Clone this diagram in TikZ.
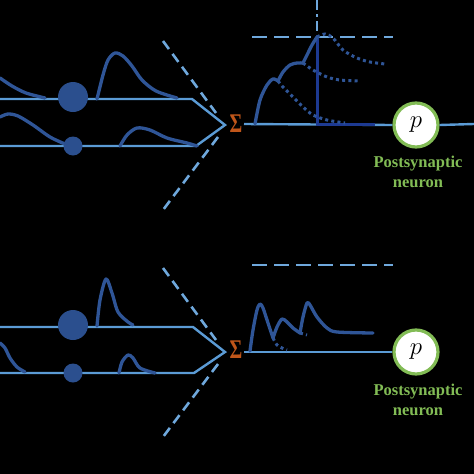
\documentclass[tikz,border=0pt]{standalone}
\usepackage{graphicx}
\usepackage{fontspec}
\setmainfont{Liberation Serif}
\definecolor{lblue}{HTML}{5B9BD5}
\definecolor{dashblue}{HTML}{6FA8DC}
\definecolor{wblue}{HTML}{2F5597}
\definecolor{sblue}{HTML}{2B4F8E}
\definecolor{navy}{HTML}{1D3A92}
\definecolor{pgreen}{HTML}{82BC55}
\definecolor{sorange}{HTML}{C0561A}
\begin{document}
\begin{tikzpicture}[x=1pt,y=-1pt,
  axon/.style={draw=lblue, line width=2.4pt},
  wave/.style={draw=wblue, line width=3.3pt, line cap=round, line join=round},
  dotwave/.style={draw=wblue, line width=3pt, dash pattern=on 3pt off 3.2pt},
  diag/.style={draw=dashblue, line width=2.6pt, dash pattern=on 10pt off 6pt},
  thresh/.style={draw=dashblue, line width=2.4pt, dash pattern=on 15pt off 7pt},
  dashdot/.style={draw=dashblue, line width=2.4pt, dash pattern=on 10pt off 4pt on 3pt off 4pt},
  navyline/.style={draw=navy, line width=3pt},
  soma/.style={circle, fill=sblue, inner sep=0pt},
  post/.style={circle, draw=pgreen, line width=3.2pt, fill=white, minimum size=44pt, inner sep=0pt, font=\fontsize{32}{32}\selectfont},
  lab/.style={text=pgreen, font=\bfseries\fontsize{16.5}{20}\selectfont, inner sep=0pt, anchor=base},
  sig/.style={text=sorange, font=\bfseries\fontsize{27}{27}\selectfont, inner sep=0pt}
]
\fill[black] (0,0) rectangle (474,474);
\useasboundingbox (0,0) rectangle (474,474);

% ================= TOP PANEL =================
\coordinate (a1) at (0,99);   \coordinate (a1e) at (192,99);
\coordinate (b1) at (0,146);  \coordinate (b1e) at (196,146);
\coordinate (apex1) at (225,125);
\draw[axon] (a1) -- (a1e) -- (apex1) -- (b1e) -- (b1);

\coordinate (d1a) at (163,41);  \coordinate (d1b) at (216,113);
\coordinate (d1c) at (218,137); \coordinate (d1d) at (163,210);
\draw[diag] (d1a) -- (d1b);
\draw[diag] (d1c) -- (d1d);

\draw[wave] plot[smooth] coordinates {(0,78) (12,86) (26,93) (45,98)};
\draw[wave] plot[smooth] coordinates {(97,99) (103,75) (108,60) (115,53) (123,56) (132,66) (142,80) (156,91) (177,98)};
\draw[wave] plot[smooth] coordinates {(0,117) (8,114) (18,116) (33,125) (50,137) (65,144)};
\draw[wave] plot[smooth] coordinates {(120,146) (127,135) (137,128) (150,130) (167,138) (187,143) (197,146)};

\node[soma, minimum size=30pt] (bigA) at (73,97) {};
\node[soma, minimum size=19pt] (smallA) at (73,146) {};

\node[sig] (sig1) at (236,124) {\scalebox{0.72}[1]{Σ}};
\node[post] (p1) at (416,125) {$p$};
\coordinate (o1s) at (244,124);
\coordinate (o1e) at (474,124);
\draw[axon] (o1s) -- (p1.west);
\draw[axon] (p1.east) -- (o1e);

% threshold & time markers
\coordinate (t1a) at (252,37); \coordinate (t1b) at (393,37);
\draw[thresh] (t1a) -- (t1b);
\coordinate (v1top) at (317,0); \coordinate (v1mid) at (317,35); \coordinate (v1bot) at (317,124);
\coordinate (h1end) at (375,124);
\draw[dashdot] (v1top) -- (v1mid);
\draw[navyline] (v1mid) -- (v1bot) -- (h1end);

% summed potential
\draw[wave] plot[smooth] coordinates {(255,124) (260,100) (267,85) (273,79) (278,81)};
\draw[wave] plot[smooth] coordinates {(278,81) (283,72) (290,65) (297,63) (303,63)};
\draw[wave] plot[smooth] coordinates {(303,63) (307,55) (312,45) (317,37)};
\draw[dotwave] plot[smooth] coordinates {(278,81) (283,87) (293,97) (303,107) (313,115) (327,120) (345,123)};
\draw[dotwave] plot[smooth] coordinates {(303,63) (313,70) (327,77) (340,80) (358,81)};
\draw[dotwave] plot[smooth] coordinates {(317,37) (325,34) (333,38) (343,50) (357,58) (370,62) (385,64)};

\node[lab] (l1a) at (418,167) {Postsynaptic};
\node[lab] (l1b) at (418,187) {neuron};

% ================= BOTTOM PANEL =================
\coordinate (a2) at (0,327);   \coordinate (a2e) at (193,327);
\coordinate (b2) at (0,373);   \coordinate (b2e) at (194,373);
\coordinate (apex2) at (225,352);
\draw[axon] (a2) -- (a2e) -- (apex2) -- (b2e) -- (b2);

\coordinate (d2a) at (163,268);  \coordinate (d2b) at (216,340);
\coordinate (d2c) at (218,364);  \coordinate (d2d) at (163,437);
\draw[diag] (d2a) -- (d2b);
\draw[diag] (d2c) -- (d2d);

\draw[wave] plot[smooth] coordinates {(97,326) (100,300) (106,279) (112,293) (118,312) (128,322) (133,325)};
\draw[wave] plot[smooth] coordinates {(0,343) (5,348) (10,358) (17,367) (25,372)};
\draw[wave] plot[smooth] coordinates {(119,373) (122,362) (128,355) (133,358) (140,368) (155,373)};

\node[soma, minimum size=30pt] (bigB) at (73,325) {};
\node[soma, minimum size=19pt] (smallB) at (73,373) {};

\node[sig] (sig2) at (236,350) {\scalebox{0.72}[1]{Σ}};
\node[post] (p2) at (416,352) {$p$};
\coordinate (o2s) at (244,352);
\draw[axon] (o2s) -- (p2.west);

\coordinate (t2a) at (252,265); \coordinate (t2b) at (393,265);
\draw[thresh] (t2a) -- (t2b);

\draw[wave] plot[smooth] coordinates {(250,351) (253,330) (257,310) (260,304) (263,308) (268,323) (273,338)};
\draw[wave] plot[smooth] coordinates {(273,338) (277,327) (282,319) (287,322) (293,328) (300,333)};
\draw[wave] plot[smooth] coordinates {(300,333) (303,317) (307,303) (310,305) (317,317) (327,328) (337,332) (373,333)};
\draw[dotwave] plot[smooth] coordinates {(273,338) (277,345) (282,348) (287,350)};
\draw[dotwave] (300,333) -- (307,335);

\node[lab] (l2a) at (418,395) {Postsynaptic};
\node[lab] (l2b) at (418,415) {neuron};
\end{tikzpicture}
\end{document}
